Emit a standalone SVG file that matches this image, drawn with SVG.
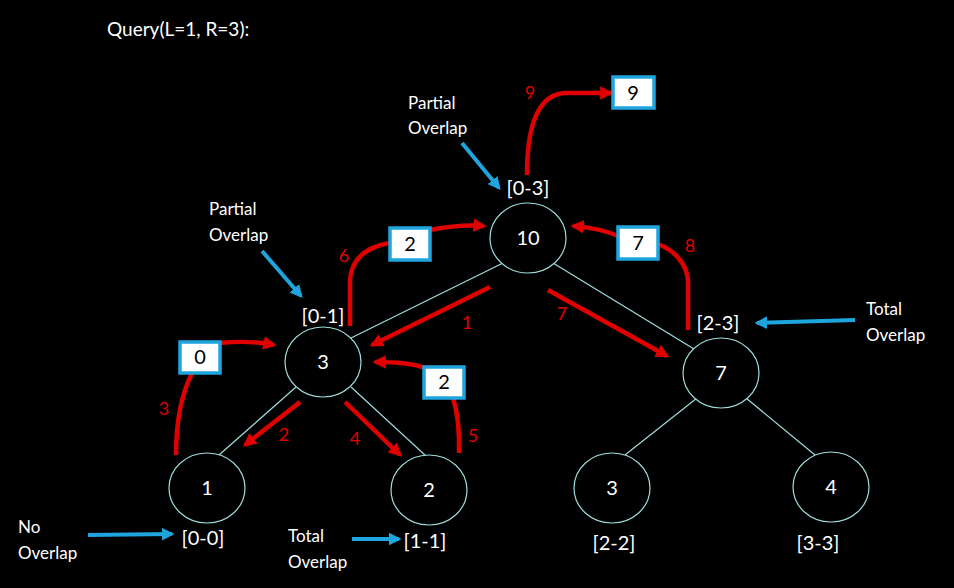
<svg xmlns="http://www.w3.org/2000/svg" width="954" height="588" viewBox="0 0 954 588">
<defs>
<marker id="ra" viewBox="0 0 10 10" refX="8" refY="5" markerWidth="3" markerHeight="3" orient="auto"><path d="M0,0 L10,5 L0,10 z" fill="#e00000"/></marker>
<marker id="ba" viewBox="0 0 10 10" refX="8" refY="5" markerWidth="3.2" markerHeight="3.2" orient="auto"><path d="M0,0 L10,5 L0,10 z" fill="#1fa5de"/></marker>
</defs>
<style>
text{font-family:Lato,"Open Sans","Liberation Sans",sans-serif}
.n ellipse{fill:#000;stroke:#9fdcdc;stroke-width:1.2}
.n text{fill:#fff;font-size:20px;text-anchor:middle}
.e{stroke:#9fdcdc;stroke-width:1.2}
.r{stroke:#e00000;stroke-width:4.5;fill:none;marker-end:url(#ra)}
.rn{stroke:#e00000;stroke-width:4.5;fill:none}
.b{stroke:#1fa5de;stroke-width:4;fill:none;marker-end:url(#ba)}
.y{fill:#e8e85a;font-size:16px;text-anchor:middle}
.w{fill:#fff;font-size:17px}
.rl{fill:#e00000;font-size:18px;text-anchor:middle}
.bx rect{fill:#fff;stroke:#1fa5de;stroke-width:3.5}
.bx text{fill:#000;font-size:20px;text-anchor:middle}
</style>
<rect width="954" height="588" fill="#000"/>
<text x="107" y="36" class="w" style="font-size:19px">Query(L=1, R=3):</text>
<g id="connectors">
<line class="e" x1="503" y1="263" x2="351" y2="338"/>
<line class="e" x1="553" y1="263" x2="694" y2="349"/>
<line class="e" x1="296" y1="387" x2="219" y2="455"/>
<line class="e" x1="351" y1="387" x2="426" y2="456"/>
<line class="e" x1="697" y1="398" x2="625" y2="455"/>
<line class="e" x1="746" y1="398" x2="815" y2="455"/>
<path class="r" d="M490,287 L372,345"/>
<path class="r" d="M548,290 L667,356"/>
<path class="r" d="M300,402 L245,445"/>
<path class="r" d="M345,402 L400,455"/>
<path class="rn" d="M176,455 Q176,405 192,373"/>
<path class="r" d="M220,343 Q250,340 274,345"/>
<path class="rn" d="M459,453 Q460,420 453,398"/>
<path class="r" d="M425,368 Q410,362 375,362"/>
<path class="rn" d="M350,326 L350,280 Q352,250 389,243"/>
<path class="r" d="M430,230 Q460,224 484,226"/>
<path class="rn" d="M688,330 L688,280 Q685,255 658,244"/>
<path class="r" d="M618,236 Q600,228 573,226"/>
<path class="r" d="M527,175 Q527,95 565,93 L611,93"/>
<path class="b" d="M462,143 L499,188"/>
<path class="b" d="M262,251 L301,296"/>
<path class="b" d="M855,320 L757,323"/>
<path class="b" d="M88,535 L172,534"/>
<path class="b" d="M352,539 L399,539"/>
</g>
<g class="rl">
<text x="467" y="329">1</text><text x="562" y="320">7</text><text x="284" y="441">2</text><text x="355" y="445">4</text>
<text x="164" y="415">3</text><text x="473" y="442">5</text><text x="344" y="262">6</text><text x="690" y="252">8</text><text x="530" y="99">9</text>
</g>
<g id="n10" class="n"><ellipse cx="528" cy="238" rx="38" ry="35"/><text x="528" y="245">10</text><text class="y" x="528" y="195">[0-3]</text></g>
<g id="n3" class="n"><ellipse cx="323" cy="362" rx="38" ry="35"/><text x="323" y="369">3</text><text class="y" x="323" y="323">[0-1]</text></g>
<g id="n7" class="n"><ellipse cx="721" cy="373" rx="38" ry="35"/><text x="721" y="380">7</text><text class="y" x="718" y="330">[2-3]</text></g>
<g id="n1" class="n"><ellipse cx="207" cy="488" rx="38" ry="35"/><text x="207" y="495">1</text><text class="y" x="203" y="545">[0-0]</text></g>
<g id="n2" class="n"><ellipse cx="429" cy="490" rx="38" ry="35"/><text x="429" y="497">2</text><text class="y" x="425" y="548">[1-1]</text></g>
<g id="n3b" class="n"><ellipse cx="612" cy="488" rx="38" ry="35"/><text x="612" y="495">3</text><text class="y" x="614" y="550">[2-2]</text></g>
<g id="n4" class="n"><ellipse cx="831" cy="487" rx="38" ry="35"/><text x="831" y="494">4</text><text class="y" x="818" y="550">[3-3]</text></g>
<g id="box9" class="bx"><rect x="613" y="77" width="41" height="31"/><text x="633" y="100">9</text></g>
<g id="box2a" class="bx"><rect x="390" y="228" width="40" height="32"/><text x="410" y="251">2</text></g>
<g id="box7" class="bx"><rect x="618" y="227" width="40" height="32"/><text x="638" y="250">7</text></g>
<g id="box0" class="bx"><rect x="180" y="342" width="40" height="31"/><text x="200" y="364">0</text></g>
<g id="box2b" class="bx"><rect x="424" y="367" width="40" height="31"/><text x="444" y="389">2</text></g>
<g class="w">
<text x="408" y="109">Partial</text><text x="408" y="134">Overlap</text>
<text x="209" y="215">Partial</text><text x="209" y="241">Overlap</text>
<text x="866" y="315">Total</text><text x="866" y="341">Overlap</text>
<text x="18" y="533">No</text><text x="18" y="559">Overlap</text>
<text x="288" y="542">Total</text><text x="288" y="568">Overlap</text>
</g>
</svg>
